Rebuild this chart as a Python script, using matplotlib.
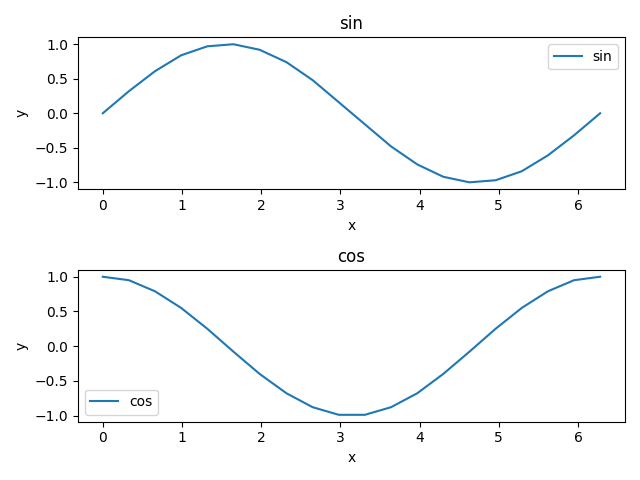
import matplotlib
matplotlib.use("Agg")
import matplotlib.pyplot as plt

# values
x = [0.0, 0.33, 0.66, 0.99, 1.32, 1.65, 1.98, 2.32, 2.65, 2.98,
     3.31, 3.64, 3.97, 4.30, 4.63, 4.96, 5.29, 5.62, 5.95, 6.28]
sin_y = [0.0, 0.32, 0.61, 0.84, 0.97, 1.0, 0.92, 0.74, 0.48, 0.16,
         -0.16, -0.48, -0.74, -0.92, -1.0, -0.97, -0.84, -0.61, -0.32, 0.0]
cos_y = [1.0, 0.95, 0.79, 0.55, 0.25, -0.08, -0.40, -0.68, -0.88, -0.99,
         -0.99, -0.88, -0.68, -0.40, -0.08, 0.25, 0.55, 0.79, 0.95, 1.0]

fig, (ax1, ax2) = plt.subplots(2, 1, figsize=(6.4, 4.8), dpi=100)

ax1.plot(x, sin_y, label="sin")
ax1.set_title("sin")
ax1.set_xlabel("x")
ax1.set_ylabel("y")
ax1.legend(loc="upper right")

ax2.plot(x, cos_y, label="cos")
ax2.set_title("cos")
ax2.set_xlabel("x")
ax2.set_ylabel("y")
ax2.legend(loc="lower left")

plt.tight_layout()
plt.savefig("out.png")
